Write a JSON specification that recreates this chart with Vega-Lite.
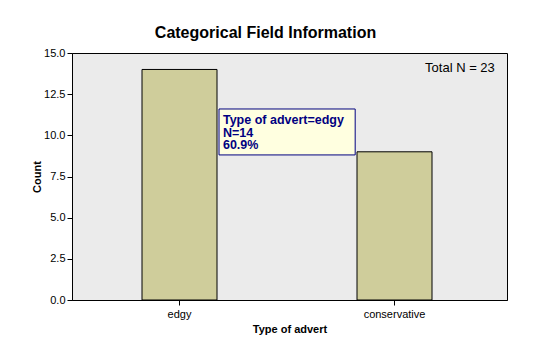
{
  "$schema": "https://vega.github.io/schema/vega-lite/v6.json",
  "autosize": {"type": "none"},
  "width": 435,
  "height": 247,
  "padding": {"left": 72, "top": 53, "right": 27, "bottom": 58},
  "background": "white",
  "title": {
    "text": "Categorical Field Information",
    "font": "Liberation Sans",
    "fontSize": 16,
    "fontWeight": "bold",
    "color": "black",
    "anchor": "middle",
    "baseline": "alphabetic",
    "offset": -7,
    "dx": -24
  },
  "config": {
    "view": {"fill": "#EBEBEB", "stroke": "black", "strokeWidth": 1},
    "axis": {
      "labelFont": "Liberation Sans",
      "titleFont": "Liberation Sans",
      "labelFontSize": 11,
      "titleFontSize": 11,
      "titleFontWeight": "bold",
      "labelColor": "black",
      "titleColor": "black",
      "domainColor": "black",
      "tickColor": "black",
      "grid": false,
      "tickSize": 5
    }
  },
  "datasets": {
    "bars": [
      {"type": "edgy", "count": 14},
      {"type": "conservative", "count": 9}
    ],
    "box": [
      {"x1": 0.338, "x2": 0.651, "y1": 11.6, "y2": 8.81}
    ],
    "lines": [
      {"x": 0.347, "y": 10.688, "label": "Type of advert=edgy"},
      {"x": 0.347, "y": 9.929, "label": "N=14"},
      {"x": 0.347, "y": 9.17, "label": "60.9%"}
    ],
    "total": [
      {"x": 0.972, "y": 14.09, "label": "Total N = 23"}
    ]
  },
  "resolve": {"scale": {"x": "independent"}},
  "layer": [
    {
      "data": {"name": "bars"},
      "mark": {"type": "bar", "width": 75, "fill": "#CFCD9B", "stroke": "black", "strokeWidth": 1},
      "encoding": {
        "x": {
          "field": "type",
          "type": "nominal",
          "sort": null,
          "scale": {"paddingInner": 0, "paddingOuter": 0.0116, "align": 0},
          "axis": {"title": "Type of advert", "labelAngle": 0, "labelPadding": 3, "titlePadding": 4}
        },
        "y": {
          "field": "count",
          "type": "quantitative",
          "scale": {"domain": [0, 15], "nice": false},
          "axis": {
            "title": "Count",
            "values": [0, 2.5, 5, 7.5, 10, 12.5, 15],
            "format": ".1f",
            "labelPadding": 2,
            "titlePadding": 1
          }
        }
      }
    },
    {
      "data": {"name": "box"},
      "mark": {"type": "rect", "fill": "#FFFFE0", "stroke": "#000080", "strokeWidth": 1},
      "encoding": {
        "x": {"field": "x1", "type": "quantitative", "scale": {"domain": [0, 1], "nice": false, "zero": false}, "axis": null},
        "x2": {"field": "x2"},
        "y": {"field": "y1", "type": "quantitative"},
        "y2": {"field": "y2"}
      }
    },
    {
      "data": {"name": "lines"},
      "mark": {"type": "text", "align": "left", "baseline": "alphabetic", "font": "Liberation Sans", "fontSize": 12.5, "fontWeight": "bold", "color": "#000080"},
      "encoding": {
        "x": {"field": "x", "type": "quantitative", "scale": {"domain": [0, 1], "nice": false, "zero": false}, "axis": null},
        "y": {"field": "y", "type": "quantitative"},
        "text": {"field": "label"}
      }
    },
    {
      "data": {"name": "total"},
      "mark": {"type": "text", "align": "right", "baseline": "middle", "font": "Liberation Sans", "fontSize": 13, "color": "black"},
      "encoding": {
        "x": {"field": "x", "type": "quantitative", "scale": {"domain": [0, 1], "nice": false, "zero": false}, "axis": null},
        "y": {"field": "y", "type": "quantitative"},
        "text": {"field": "label"}
      }
    }
  ]
}
